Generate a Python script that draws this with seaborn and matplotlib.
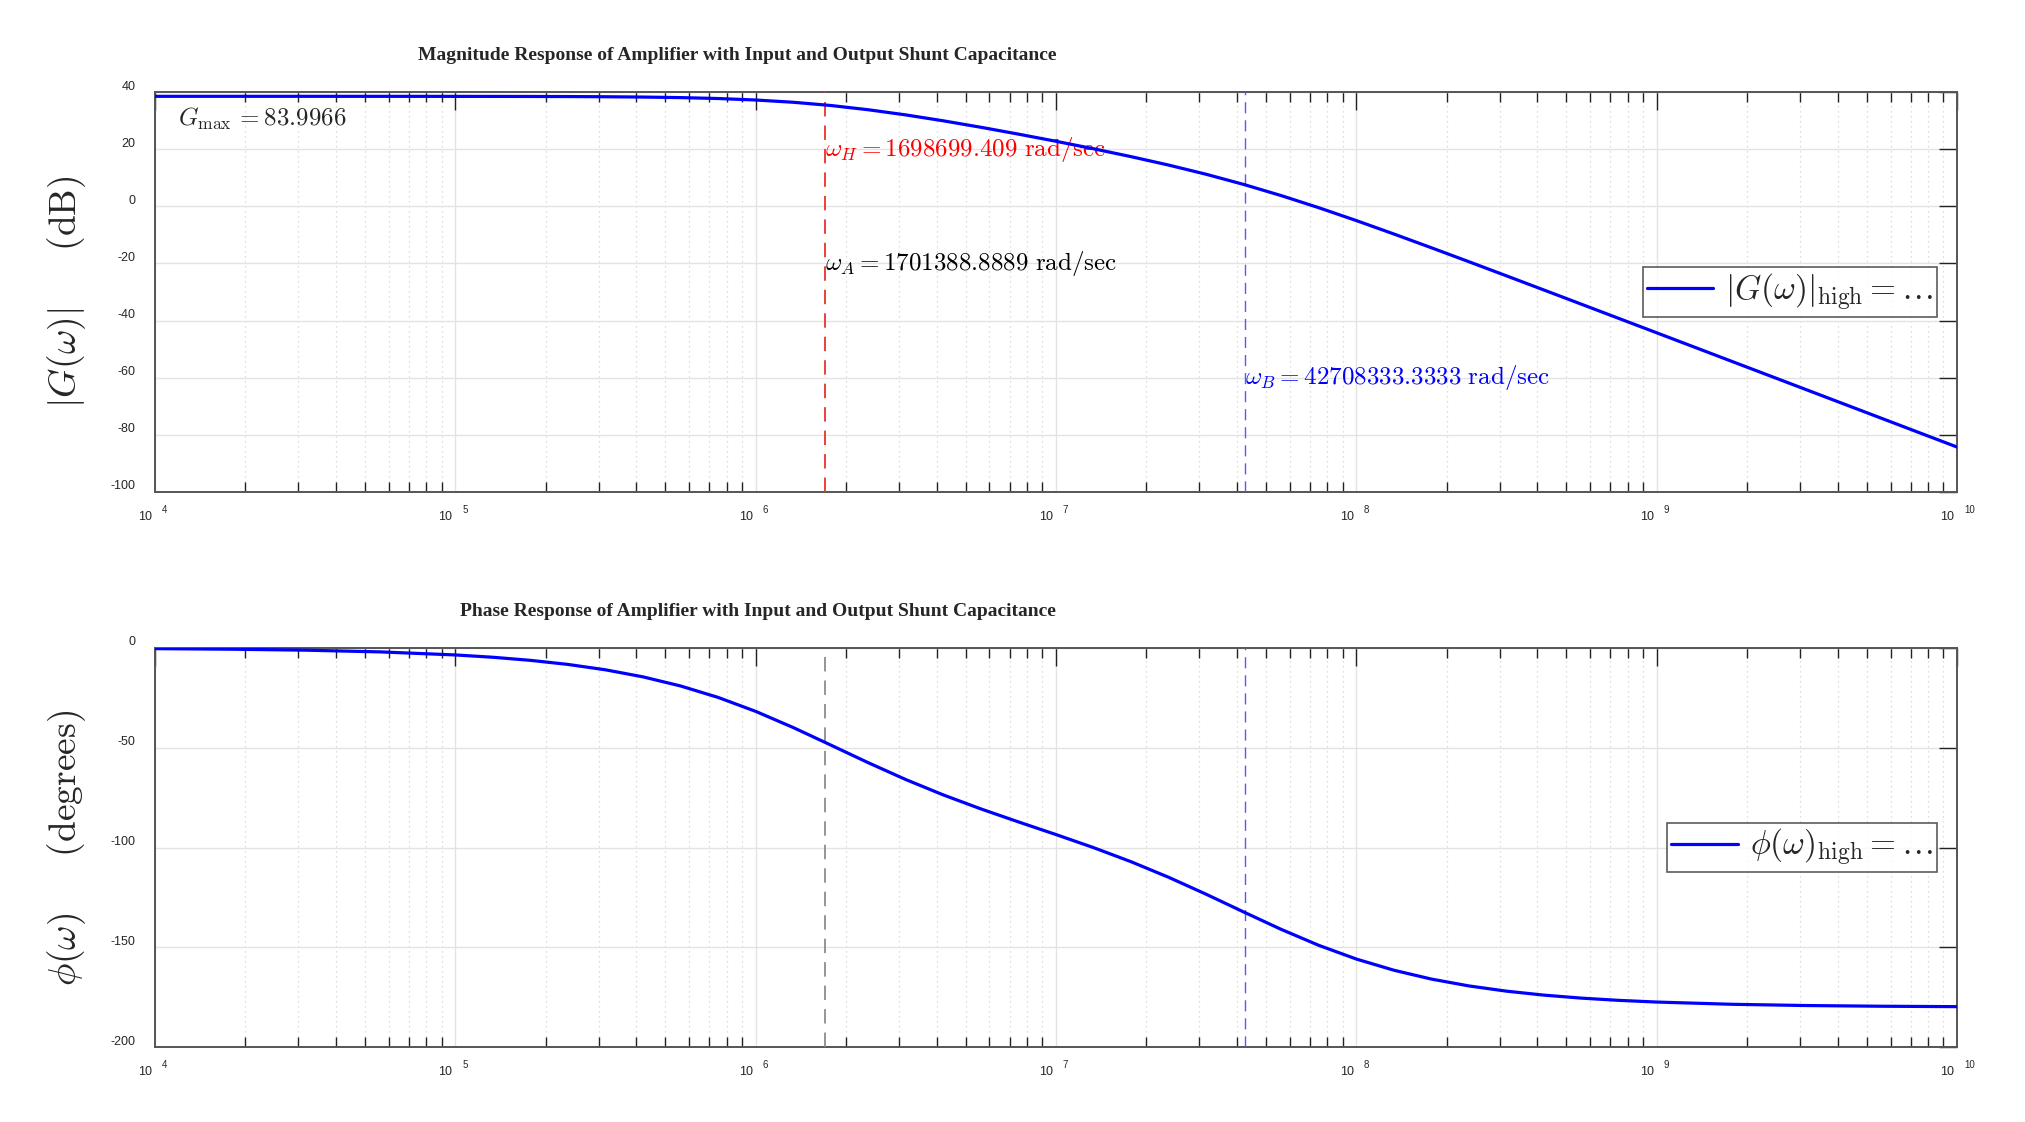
import numpy as np
import pandas as pd
import matplotlib
matplotlib.use('Agg')
import matplotlib.pyplot as plt
import seaborn as sns
from matplotlib.ticker import LogLocator, NullFormatter, FixedLocator
from matplotlib.transforms import ScaledTranslation

# ── 데이터 ─────────────────────────────────────────────────────
FREQ_EXP   = [4.00, 4.25, 4.50, 4.75, 5.00, 5.125, 5.25, 5.375, 5.50, 5.625, 5.75, 5.875,
              6.00, 6.125, 6.25, 6.375, 6.50, 6.625, 6.75, 6.875, 7.00, 7.125, 7.25, 7.375,
              7.50, 7.625, 7.75, 7.875, 8.00, 8.125, 8.25, 8.375, 8.50, 8.625, 8.75, 8.875,
              9.00, 9.25, 9.50, 9.75, 10.00]
MAG_DB     = [38.49, 38.49, 38.49, 38.48, 38.47, 38.46, 38.44, 38.41, 38.34, 38.23, 38.04, 37.72,
              37.20, 36.41, 35.28, 33.79, 31.98, 29.91, 27.65, 25.25, 22.75, 20.13, 17.37, 14.42,
              11.20, 7.64, 3.73, -0.51, -5.01, -9.71, -14.53, -19.42, -24.36, -29.33, -34.31, -39.30,
              -44.29, -54.29, -64.28, -74.28, -84.28]
PHASE_DEG  = [-0.35, -0.62, -1.11, -1.97, -3.50, -4.66, -6.21, -8.25, -10.95, -14.49, -19.05, -24.79,
              -31.78, -39.88, -48.66, -57.52, -65.96, -73.67, -80.67, -87.18, -93.52, -100.07, -107.14,
              -114.94, -123.44, -132.33, -141.06, -149.05, -155.91, -161.51, -165.95, -169.38, -172.00,
              -173.99, -175.49, -176.61, -177.45, -178.57, -179.20, -179.55, -179.75]

G_MAX      = 83.9966
OMEGA_H    = 1698699.409
OMEGA_A    = 1701388.8889
OMEGA_B    = 42708333.3333

MAG_TICKS   = [-100, -80, -60, -40, -20, 0, 20, 40]
PHASE_TICKS = [-200, -150, -100, -50, 0]
X_DECADES   = [4, 5, 6, 7, 8, 9, 10]

TITLE_MAG   = 'Magnitude Response of Amplifier with Input and Output Shunt Capacitance'
TITLE_PHASE = 'Phase Response of Amplifier with Input and Output Shunt Capacitance'

df = pd.DataFrame({'w': [10 ** e for e in FREQ_EXP], 'mag': MAG_DB, 'phase': PHASE_DEG})

sns.set_style('white')
plt.rcParams['mathtext.fontset'] = 'cm'
plt.rcParams['font.family'] = ['Liberation Sans Narrow', 'Liberation Sans', 'DejaVu Sans']

TICK_FONT = ['Liberation Sans Narrow', 'Liberation Sans', 'DejaVu Sans']

fig = plt.figure(figsize=(20.25, 11.22), dpi=100)
ax1 = fig.add_axes([0.0765, 0.5615, 0.890, 0.3565])
ax2 = fig.add_axes([0.0765, 0.0668, 0.890, 0.3557])


def style_axes(ax, yticks):
    ax.set_xscale('log')
    ax.set_xlim(1e4, 1e10)
    ax.set_ylim(min(yticks), max(yticks))
    ax.yaxis.set_major_locator(FixedLocator(yticks))
    ax.xaxis.set_major_locator(LogLocator(base=10, numticks=20))
    ax.xaxis.set_minor_locator(LogLocator(base=10, subs=np.arange(2, 10), numticks=100))
    ax.xaxis.set_major_formatter(NullFormatter())
    ax.xaxis.set_minor_formatter(NullFormatter())
    ax.set_yticklabels([str(t) for t in yticks], fontsize=9, family=TICK_FONT)
    ax.tick_params(axis='both', which='major', direction='in', length=13, width=1.0,
                   color='#222222', top=True, right=True, pad=14)
    ax.tick_params(axis='x', which='minor', direction='in', length=7, width=1.0,
                   color='#222222', top=True, bottom=True)
    ax.grid(True, which='major', color='#e3e3e3', linewidth=1.0, linestyle='-')
    ax.grid(True, which='minor', axis='x', color='#d3d3d3', linewidth=0.9, linestyle=(0, (1, 3)))
    ax.set_axisbelow(True)
    for sp in ax.spines.values():
        sp.set_color('#555555')
        sp.set_linewidth(1.4)
    # y tick labels sit a bit above the ticks
    off = ScaledTranslation(0, 7 / 100, fig.dpi_scale_trans)
    for lab in ax.get_yticklabels():
        lab.set_transform(lab.get_transform() + off)
    # MATLAB-style "10 ^n" labels
    for d in X_DECADES:
        ax.annotate('10', xy=(10 ** d, 0), xycoords=('data', 'axes fraction'),
                    xytext=(-2, -18), textcoords='offset points',
                    ha='right', va='center', fontsize=9, family=TICK_FONT, annotation_clip=False)
        ax.annotate(str(d), xy=(10 ** d, 0), xycoords=('data', 'axes fraction'),
                    xytext=(5, -13), textcoords='offset points',
                    ha='left', va='center', fontsize=7, family=TICK_FONT, annotation_clip=False)


def add_legend(ax):
    leg = ax.legend(loc='center right', fontsize=24, frameon=True, fancybox=False,
                    edgecolor='#333333', handlelength=2.0, borderaxespad=0.6,
                    borderpad=0.12, handletextpad=0.35)
    leg.get_frame().set_linewidth(1.2)


# ── 크기 응답 ────────────────────────────────────────────────────────
sns.lineplot(data=df, x='w', y='mag', ax=ax1, color='#0000ff', linewidth=2.3,
             label=r'$|G(\omega)|_{\mathrm{high}} = \ldots$', zorder=5)
ax1.axvline(OMEGA_H, color='#e8332b', linestyle=(0, (8, 5)), linewidth=1.3, zorder=3)
ax1.axvline(OMEGA_B, color='#5a5af0', linestyle=(0, (8, 5)), linewidth=1.0, zorder=3)
style_axes(ax1, MAG_TICKS)
ax1.set_xlabel('')
ax1.set_ylabel(r'$|G(\omega)|\quad\ \ (\mathrm{dB})$', fontsize=27, labelpad=16)

ax1.text(1.19e4, 30.5, r'$G_{\max}\,{=}83.9966$', fontsize=18, va='center', ha='left')
ax1.text(OMEGA_H, 20, r'$\omega_H = 1698699.409\ \mathrm{rad/sec}$', color='#ff0000',
         fontsize=18, va='center', ha='left')
ax1.text(OMEGA_A, -20, r'$\omega_A = 1701388.8889\ \mathrm{rad/sec}$', color='black',
         fontsize=18, va='center', ha='left')
ax1.text(OMEGA_B, -60, r'$\omega_B = 42708333.3333\ \mathrm{rad/sec}$', color='#0000ff',
         fontsize=18, va='center', ha='left')
add_legend(ax1)
ax1.text(0.5, 1.07, TITLE_MAG, transform=ax1.transAxes, ha='right', va='bottom',
         fontsize=14, fontweight='bold', family=['Liberation Serif', 'DejaVu Serif'])

# ── 위상 응답 ────────────────────────────────────────────────────────
sns.lineplot(data=df, x='w', y='phase', ax=ax2, color='#0000ff', linewidth=2.3,
             label=r'$\phi(\omega)_{\mathrm{high}} = \ldots$', zorder=5)
ax2.axvline(OMEGA_H, color='#8c8c8c', linestyle=(0, (8, 5)), linewidth=1.3, zorder=3)
ax2.axvline(OMEGA_B, color='#5a5af0', linestyle=(0, (8, 5)), linewidth=1.0, zorder=3)
style_axes(ax2, PHASE_TICKS)
ax2.set_xlabel('')
ax2.set_ylabel(r'$\phi(\omega)\quad\ \ (\mathrm{degrees})$', fontsize=27, labelpad=16)
add_legend(ax2)
ax2.text(0.5, 1.07, TITLE_PHASE, transform=ax2.transAxes, ha='right', va='bottom',
         fontsize=14, fontweight='bold', family=['Liberation Serif', 'DejaVu Serif'])

fig.savefig('out.png', dpi=100)
